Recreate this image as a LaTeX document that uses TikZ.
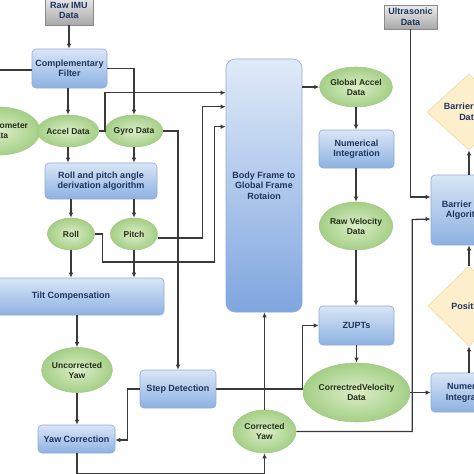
\documentclass[tikz,border=0pt]{standalone}
\usepackage{fontspec}
\setmainfont{Liberation Sans}
\usetikzlibrary{shapes.geometric,arrows.meta}
\definecolor{bxtop}{HTML}{D9E6F6}
\definecolor{bxbot}{HTML}{8DB1E2}
\definecolor{bxline}{HTML}{8FAAD6}
\definecolor{bdtop}{HTML}{E0EAF8}
\definecolor{bdbot}{HTML}{7FA6DF}
\definecolor{elin}{HTML}{DCEDC8}
\definecolor{elout}{HTML}{A4CF86}
\definecolor{elline}{HTML}{A6C88A}
\definecolor{dfill}{HTML}{FDEFCB}
\definecolor{dline}{HTML}{F1DA9E}
\definecolor{grtop}{HTML}{EDEDED}
\definecolor{grbot}{HTML}{A8A8A8}
\definecolor{grline}{HTML}{8A8A8A}
\definecolor{navy}{HTML}{1F3560}
\definecolor{dgreen}{HTML}{24301A}
\definecolor{linec}{HTML}{3A3A3A}
\begin{document}
\begin{tikzpicture}[x=1pt,y=-1pt,
  box/.style={rectangle, rounded corners=4pt, draw=bxline, line width=0.6pt,
    top color=bxtop, bottom color=bxbot, inner sep=0pt, align=center,
    text=navy, font=\bfseries\fontsize{9}{10.5}\selectfont},
  bigbox/.style={box, top color=bdtop, bottom color=bdbot, rounded corners=9pt},
  ell/.style={ellipse, draw=elline, line width=0.6pt, inner color=elin, outer color=elout,
    inner sep=0pt, align=center, text=dgreen, font=\bfseries\fontsize{8.5}{10}\selectfont},
  dia/.style={diamond, draw=dline, line width=0.6pt, fill=dfill, inner sep=0pt, aspect=1,
    align=center, text=navy, font=\bfseries\fontsize{9}{10.5}\selectfont},
  graybox/.style={rectangle, draw=grline, line width=0.6pt, top color=grtop, bottom color=grbot,
    inner sep=0pt, align=center, text=navy, font=\bfseries\fontsize{9}{10.5}\selectfont},
  arr/.style={-{Latex[length=5pt,width=4.5pt]}, line width=1.3pt, draw=linec},
  ln/.style={line width=1.3pt, draw=linec}]
\useasboundingbox (0,0) rectangle (474,474);
\fill[white] (0,0) rectangle (474,474);
\begin{scope}
\clip (0,0) rectangle (474,474);
% nodes
\node[graybox, minimum width=48pt, minimum height=29pt] (raw) at (69,10.5) {Raw IMU\\Data};
\node[box, minimum width=75pt, minimum height=39pt] (comp) at (69.5,68.5) {Complementary\\Filter};
\node[ell, minimum width=66pt, minimum height=48pt] (mag) at (-1,131) {Magnetometer\\Data};
\node[ell, minimum width=47pt, minimum height=32pt] (accel) at (68,131) {Accel Data};
\node[ell, minimum width=48pt, minimum height=32pt] (gyro) at (134,131) {Gyro Data};
\node[box, minimum width=112pt, minimum height=36pt] (rp) at (101,181) {Roll and pitch angle\\derivation algorithm};
\node[ell, minimum width=47pt, minimum height=32pt] (roll) at (71,234) {Roll};
\node[ell, minimum width=47pt, minimum height=32pt] (pitch) at (134,234) {Pitch};
\node[box, minimum width=186pt, minimum height=37pt] (tilt) at (71,296.5) {Tilt Compensation};
\node[ell, minimum width=64pt, minimum height=45pt] (uyaw) at (77,370) {Uncorrected\\Yaw};
\node[box, minimum width=77pt, minimum height=28pt] (ycor) at (76.5,439) {Yaw Correction};
\node[box, minimum width=76pt, minimum height=38pt] (step) at (178,389) {Step Detection};
\node[bigbox, minimum width=76pt, minimum height=253pt] (body) at (264,185.5) {Body Frame to\\Global Frame\\Rotaion};
\node[ell, minimum width=66pt, minimum height=40pt] (gacc) at (356,87) {Global Accel\\Data};
\node[box, minimum width=75pt, minimum height=38pt] (num1) at (356.5,149) {Numerical\\Integration};
\node[ell, minimum width=66pt, minimum height=48pt] (rvel) at (356,226) {Raw Velocity\\Data};
\node[box, minimum width=75pt, minimum height=39pt] (zupt) at (356.5,325.5) {ZUPTs};
\node[ell, minimum width=87pt, minimum height=59pt] (cvel) at (356.5,392.5) {CorrectredVelocity\\Data};
\node[ell, minimum width=63pt, minimum height=43pt] (cyaw) at (264.5,431.5) {Corrected\\Yaw};
\node[graybox, minimum width=53pt, minimum height=24pt] (ultra) at (410.5,17) {Ultrasonic\\Data};
\node[dia, minimum width=84pt, minimum height=76pt] (bmd) at (469,112) {Barrier Map\\Data};
\node[box, minimum width=72pt, minimum height=70pt] (bma) at (467,210) {Barrier Map\\Algorithm};
\node[dia, minimum width=82pt, minimum height=80pt] (pos) at (469,306) {Position};
\node[box, minimum width=76pt, minimum height=39pt] (num2) at (469,392.5) {Numerical\\Integration};
\coordinate (offl) at (-40,70);
% connectors
\draw[arr] (raw.south) -- (comp.north -| raw.south);
\draw[ln] (comp.west |- offl) -- (offl);
\draw[arr] (comp.east) -| (gyro.north);
\draw[arr] (comp.south -| accel.north) -- (accel.north);
\draw[arr] (accel.east) -- ++(6,0) |- ([yshift=-34pt]body.north west);
\draw[arr] (accel.south) -- (rp.north -| accel.south);
\draw[arr] (gyro.south) -- (rp.north -| gyro.south);
\draw[arr] (gyro.east) -| (step.north);
\draw[arr] (rp.south -| roll.north) -- (roll.north);
\draw[arr] (rp.south -| pitch.north) -- (pitch.north);
\draw[arr] ([yshift=-4pt]pitch.east) -- ++(45,0) |- ([yshift=-48pt]body.north west);
\draw[arr] (roll.east) -- ++(8,0) -- ++(0,28) -| ++(112,0) |- ([yshift=-68pt]body.north west);
\draw[arr] (roll.south) -- (tilt.north -| roll.south);
\draw[arr] (pitch.south) -- (tilt.north -| pitch.south);
\draw[arr] (tilt.south -| uyaw.north) -- (uyaw.north);
\draw[arr] (uyaw.south) -- (ycor.north -| uyaw.south);
\draw[arr] (step.west) -- ++(-12,0) |- ([yshift=-1pt]ycor.east);
\draw[arr] (step.east) -- ++(86,0) |- (zupt.west);
\draw[arr] (ycor.south -| uyaw.south) -- ++(0,20) -| (cyaw.south);
\draw[arr] (cyaw.north) -- (body.south -| cyaw.north);
\draw[arr] (cyaw.east) -| ++(116,-212) -- ([yshift=-9pt]bma.west);
\draw[arr] (ultra.south) |- ([yshift=13pt]bma.west);
\draw[arr] (body.east |- gacc.west) -- (gacc.west);
\draw[arr] (gacc.south) -- (num1.north -| gacc.south);
\draw[arr] (num1.south -| rvel.north) -- (rvel.north);
\draw[arr] (rvel.south) -- (zupt.north -| rvel.south);
\draw[arr] (zupt.south -| cvel.north) -- (cvel.north);
\draw[arr] (cvel.east) -- (num2.west);
\draw[arr] (num2.north -| pos.south) -- (pos.south);
\draw[arr] (pos.north) -- (bma.south -| pos.north);
\draw[arr] (bma.north -| bmd.south) -- (bmd.south);
\end{scope}
\end{tikzpicture}
\end{document}
